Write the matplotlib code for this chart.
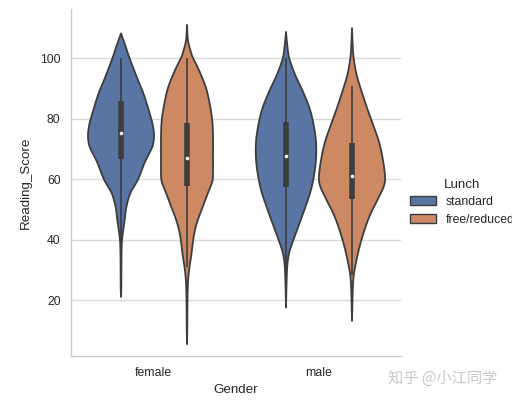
import numpy as np
import matplotlib
matplotlib.use("Agg")
import matplotlib.pyplot as plt
from matplotlib.patches import Patch
import seaborn as sns

# ---------------- data ----------------
genders = ["female", "male"]
lunch = ["standard", "free/reduced"]

# density outlines: score levels and half-width (pixels at reference scale, relative)
fs_y = [108.3, 104.4, 100, 93.4, 87.9, 80, 77, 74.5, 72, 70, 65.6, 60, 55.6, 51.1, 46.7, 42.2, 38.9, 33, 25, 21.2]
fs_w = [0, 4.2, 8.7, 16.3, 23, 30.3, 32.3, 33, 32.3, 30.3, 23.7, 17, 9.5, 5.5, 3.7, 1.8, 0.8, 0.45, 0.3, 0]

ff_y = [111.1, 106, 101.7, 100, 96.1, 90.6, 85, 79.4, 73.9, 68.3, 62.8, 59.4, 55, 50.6, 46.1, 41.7, 35, 30.6, 26, 20, 12, 5.6]
ff_w = [0, 1, 4.3, 6.3, 12, 18.7, 22.7, 25.3, 26, 26, 26, 25.3, 20.3, 15.3, 10.3, 7, 4.3, 2.3, 1, 0.5, 0.3, 0]

ms_y = [108.8, 104.4, 100, 94.5, 89, 83.4, 77.9, 72.4, 66.9, 61.3, 55.8, 50.3, 44.8, 40.3, 35.9, 31.5, 25, 17.7]
ms_w = [0, 1.3, 3.3, 9.3, 17, 23.7, 27.7, 30, 30, 28, 24.3, 18.7, 12.7, 7.7, 3.3, 1.3, 0.5, 0]

mf_y = [110, 104.4, 100, 94.5, 89, 83.4, 77.9, 72.4, 66.9, 61.3, 58, 53.6, 49.2, 44.8, 39.2, 33.7, 28.2, 22.7, 13.3]
mf_w = [0, 0.7, 1.7, 4.7, 9.7, 15.3, 21.3, 27, 30.7, 33, 32, 26, 19.3, 14, 8.7, 4.7, 1.7, 0.7, 0]

# box stats: whisker low, q1, median, q3, whisker high
fs_box = [40, 66.7, 75.1, 85.9, 100]
ff_box = [31, 57.6, 67.1, 78.6, 100]
ms_box = [27, 57.3, 67.5, 78.8, 100]
mf_box = [28.2, 53.3, 61.1, 71.8, 90.6]

violins = {
    ("female", "standard"): (fs_y, fs_w, fs_box),
    ("female", "free/reduced"): (ff_y, ff_w, ff_box),
    ("male", "standard"): (ms_y, ms_w, ms_box),
    ("male", "free/reduced"): (mf_y, mf_w, mf_box),
}


def smooth_outline(ys, ws, n=12):
    """Catmull-Rom rendering of an outline through the read points."""
    P = np.column_stack([ys, ws]).astype(float)
    P = np.vstack([P[0], P, P[-1]])
    out = []
    t = np.linspace(0, 1, n, endpoint=False)
    for i in range(1, len(P) - 2):
        p0, p1, p2, p3 = P[i - 1], P[i], P[i + 1], P[i + 2]
        tt = t[:, None]
        seg = 0.5 * ((2 * p1) + (-p0 + p2) * tt + (2 * p0 - 5 * p1 + 4 * p2 - p3) * tt ** 2
                     + (-p0 + 3 * p1 - 3 * p2 + p3) * tt ** 3)
        out.append(seg)
    out.append(P[-2][None, :])
    out = np.vstack(out)
    return out[:, 0], np.clip(out[:, 1], 0, None)


# ---------------- style ----------------
sns.set_theme(style="whitegrid")
plt.rcParams["font.family"] = ["Liberation Sans", "DejaVu Sans"]
plt.rcParams["text.color"] = ".15"
plt.rcParams["axes.labelcolor"] = ".15"
plt.rcParams["xtick.color"] = ".15"
plt.rcParams["ytick.color"] = ".15"

pal = [sns.desaturate(c, 0.75) for c in sns.color_palette("deep")[:2]]
gray = "#3d3d3d"

fig = plt.figure(figsize=(5.12, 4.01), dpi=100)
ax = fig.add_axes([71 / 512, 1 - 355.7 / 401, 330 / 512, (355.7 - 9) / 401])

max_w = max(max(fs_w), max(ff_w), max(ms_w), max(mf_w))
half = 0.2  # half of dodge width for each hue

for gi, g in enumerate(genders):
    for hi, h in enumerate(lunch):
        ys, ws, box = violins[(g, h)]
        sy, sw = smooth_outline(ys, ws)
        sw = sw / max_w * half
        cx = gi + (hi - 0.5) * 0.4
        ax.fill_betweenx(sy, cx - sw, cx + sw, facecolor=pal[hi],
                         edgecolor=gray, linewidth=1.3, zorder=2)
        lo, q1, med, q3, hi_w = box
        ax.vlines(cx, lo, hi_w, color=gray, linewidth=1.2, zorder=3)
        ax.vlines(cx, q1, q3, color=gray, linewidth=4.0, zorder=3)
        ax.plot(cx, med, "o", color="white", markersize=2.6, markeredgewidth=0, zorder=4)

ax.set_xlim(-0.5, 1.5)
ax.set_ylim(1.6, 116.2)
ax.set_xticks([0, 1])
ax.set_xticklabels(genders, fontsize=8.8)
ax.set_yticks([20, 40, 60, 80, 100])
ax.tick_params(axis="y", labelsize=8.8, length=0, pad=7.5)
ax.tick_params(axis="x", labelsize=8.8, length=0, pad=8)
ax.grid(axis="x", visible=False)
ax.grid(axis="y", color=".85", linewidth=1.0)
ax.set_axisbelow(True)
for s in ["top", "right"]:
    ax.spines[s].set_visible(False)
for s in ["left", "bottom"]:
    ax.spines[s].set_color(".8")
    ax.spines[s].set_linewidth(1.0)
ax.set_xlabel("Gender", fontsize=9.6, labelpad=4)
ax.set_ylabel("Reading_Score", fontsize=9.6, labelpad=6)

handles = [Patch(facecolor=pal[i], edgecolor=gray, linewidth=1.0, label=lunch[i]) for i in range(2)]
leg = fig.legend(handles=handles, title="Lunch", loc="center left",
                 bbox_to_anchor=(404 / 512, 1 - 202 / 401), frameon=False,
                 fontsize=8.8, title_fontsize=9.6, borderpad=0,
                 handlelength=2.1, handletextpad=0.8, labelspacing=0.45)

fig.text(388 / 512, 1 - 378 / 401, "知乎 @小江同学", fontsize=11, color="#c9c9c9",
         family=["Noto Sans CJK SC", "DejaVu Sans"], ha="left", va="center")

fig.savefig("out.png", dpi=100)
